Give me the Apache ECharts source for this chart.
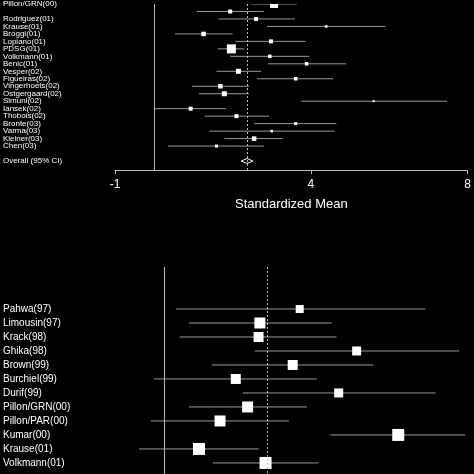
<!DOCTYPE html>
<html>
<head>
<meta charset="UTF-8">
<script src="https://cdn.jsdelivr.net/npm/echarts@6/dist/echarts.min.js"></script>
<style>
    html, body { margin: 0; padding: 0; background: #000; }
    #main { width: 474px; height: 474px; }
</style>
</head>
<body>
<div id="main"></div>
<script>
    // top panel: standardized mean with 95% CI
    const topNames = ['Pillon/GRN(00)', 'Pillon/PAR(00)', 'Rodriguez(01)', 'Krause(01)', 'Broggi(01)', 'Lopiano(01)', 'PDSG(01)',
        'Volkmann(01)', 'Benic(01)', 'Vesper(02)', 'Figueiras(02)', 'Vingerhoets(02)', 'Ostgergaard(02)', 'Simuni(02)',
        'Iansek(02)', 'Thobois(02)', 'Bronte(03)', 'Varma(03)', 'Kleiner(03)', 'Chen(03)'];
    const topEst = [3.06, 1.94, 2.6, 4.39, 1.26, 2.98, 1.97, 2.95, 3.89, 2.15, 3.61, 1.69, 1.79, 5.6, 0.93, 2.1, 3.61, 3.0, 2.55, 1.59];
    const topLo = [2.47, 1.09, 1.64, 2.88, 0.53, 2.07, 1.62, 1.94, 2.9, 1.59, 2.63, 0.96, 1.14, 3.76, 0.0, 1.29, 2.55, 1.41, 1.79, 0.35];
    const topHi = [3.64, 2.8, 3.59, 5.9, 2.0, 3.86, 2.3, 3.96, 4.9, 2.73, 4.57, 2.42, 2.42, 7.47, 1.84, 2.93, 4.65, 4.6, 3.28, 2.8];
    const topSize = [8, 4, 4, 2.5, 4.5, 4, 9, 3.5, 3.5, 5, 3.5, 4.5, 5, 2, 4, 4, 3, 2.5, 4.5, 3];
    const overall = [2.37, 2.22, 2.52];
    const topTicks = [-1, 4, 8];

    // bottom panel
    const botNames = ['Pahwa(97)', 'Limousin(97)', 'Krack(98)', 'Ghika(98)', 'Brown(99)', 'Burchiel(99)', 'Durif(99)',
        'Pillon/GRN(00)', 'Pillon/PAR(00)', 'Kumar(00)', 'Krause(01)', 'Volkmann(01)'];
    const botEst = [3.10, 2.19, 2.16, 4.40, 2.94, 1.64, 3.99, 1.91, 1.28, 5.35, 0.80, 2.32];
    const botLo = [0.27, 0.57, 0.36, 2.07, 1.09, -0.23, 1.80, 0.57, -0.30, 3.80, -0.57, 1.12];
    const botHi = [5.97, 3.83, 3.94, 6.74, 4.78, 3.49, 6.20, 3.26, 2.85, 6.88, 2.16, 3.53];
    const botSize = [8, 11, 10, 9, 10, 10, 9, 11, 11, 12, 12, 12];
    const botOverall = 2.37;

    const topLabels = topNames.concat(['', 'Overall (95% CI)']);

    function rows(est, lo, hi, size) {
        return est.map((e, i) => [i, e, lo[i], hi[i], size[i]]);
    }

    function renderForest(params, api) {
        const y = api.value(0);
        const p = api.coord([api.value(1), y]);
        const a = api.coord([api.value(2), y]);
        const b = api.coord([api.value(3), y]);
        const s = api.value(4);
        return {
            type: 'group',
            children: [
                { type: 'line', shape: { x1: a[0], y1: a[1], x2: b[0], y2: b[1] }, style: { stroke: '#999', lineWidth: 1 } },
                { type: 'rect', shape: { x: p[0] - s / 2, y: p[1] - s / 2, width: s, height: s }, style: { fill: '#fff' } }
            ]
        };
    }

    const vline = (x, type) => ({ xAxis: x, lineStyle: { color: '#bbb', width: 1, type: type } });

    const chart = echarts.init(document.getElementById('main'));
    chart.setOption({
        backgroundColor: '#000',
        animation: false,
        grid: [
            { left: 114, top: 1, width: 358, height: 169 },
            { left: 138, top: 267, width: 336, height: 207 }
        ],
        xAxis: [
            {
                gridIndex: 0, type: 'value', min: -1, max: 8, interval: 1, position: 'bottom',
                name: 'Standardized Mean', nameLocation: 'middle', nameGap: 28,
                nameTextStyle: { color: '#fff', fontSize: 13, fontFamily: 'Liberation Sans' },
                axisLine: { onZero: false, lineStyle: { color: '#bbb' } },
                axisTick: { customValues: topTicks, length: 4, lineStyle: { color: '#bbb' } },
                axisLabel: { customValues: topTicks, color: '#fff', fontSize: 12, margin: 9, fontFamily: 'Liberation Sans' },
                splitLine: { show: false }
            },
            {
                gridIndex: 1, type: 'value', min: -0.57, max: 7.08, show: false, splitLine: { show: false }
            }
        ],
        yAxis: [
            {
                gridIndex: 0, type: 'value', inverse: true, min: 0, max: 22.2, interval: 1,
                axisLine: { show: false }, axisTick: { show: false }, splitLine: { show: false },
                axisLabel: {
                    align: 'left', margin: 112, color: '#fff', fontSize: 8, fontFamily: 'Liberation Sans',
                    showMinLabel: true,
                    formatter: v => topLabels[v] || ''
                }
            },
            {
                gridIndex: 1, type: 'value', inverse: true, min: -3, max: 11.79, interval: 1,
                axisLine: { show: false }, axisTick: { show: false }, splitLine: { show: false },
                axisLabel: {
                    align: 'left', margin: 136, color: '#fff', fontSize: 10, fontFamily: 'Liberation Sans',
                    formatter: v => (v >= 0 ? botNames[v] || '' : '')
                }
            }
        ],
        series: [
            {
                type: 'custom', xAxisIndex: 0, yAxisIndex: 0, clip: true,
                encode: { x: [1, 2, 3], y: 0 },
                data: rows(topEst, topLo, topHi, topSize),
                renderItem: renderForest,
                markLine: {
                    symbol: 'none', silent: true, label: { show: false },
                    data: [vline(0, 'solid'), vline(overall[0], [2, 2])]
                }
            },
            {
                type: 'custom', xAxisIndex: 0, yAxisIndex: 0,
                encode: { x: [0, 1, 2], y: 3 },
                data: [[overall[0], overall[1], overall[2], 21]],
                renderItem: function (params, api) {
                    const c = api.coord([api.value(0), api.value(3)]);
                    const l = api.coord([api.value(1), api.value(3)]);
                    const r = api.coord([api.value(2), api.value(3)]);
                    return {
                        type: 'polygon',
                        shape: { points: [[l[0], c[1]], [c[0], c[1] - 2.5], [r[0], c[1]], [c[0], c[1] + 2.5]] },
                        style: { fill: '#000', stroke: '#fff', lineWidth: 1 }
                    };
                }
            },
            {
                type: 'custom', xAxisIndex: 1, yAxisIndex: 1, clip: true,
                encode: { x: [1, 2, 3], y: 0 },
                data: rows(botEst, botLo, botHi, botSize),
                renderItem: renderForest,
                markLine: {
                    symbol: 'none', silent: true, label: { show: false },
                    data: [vline(0, 'solid'), vline(botOverall, [2, 2])]
                }
            }
        ]
    });
</script>
</body>
</html>
